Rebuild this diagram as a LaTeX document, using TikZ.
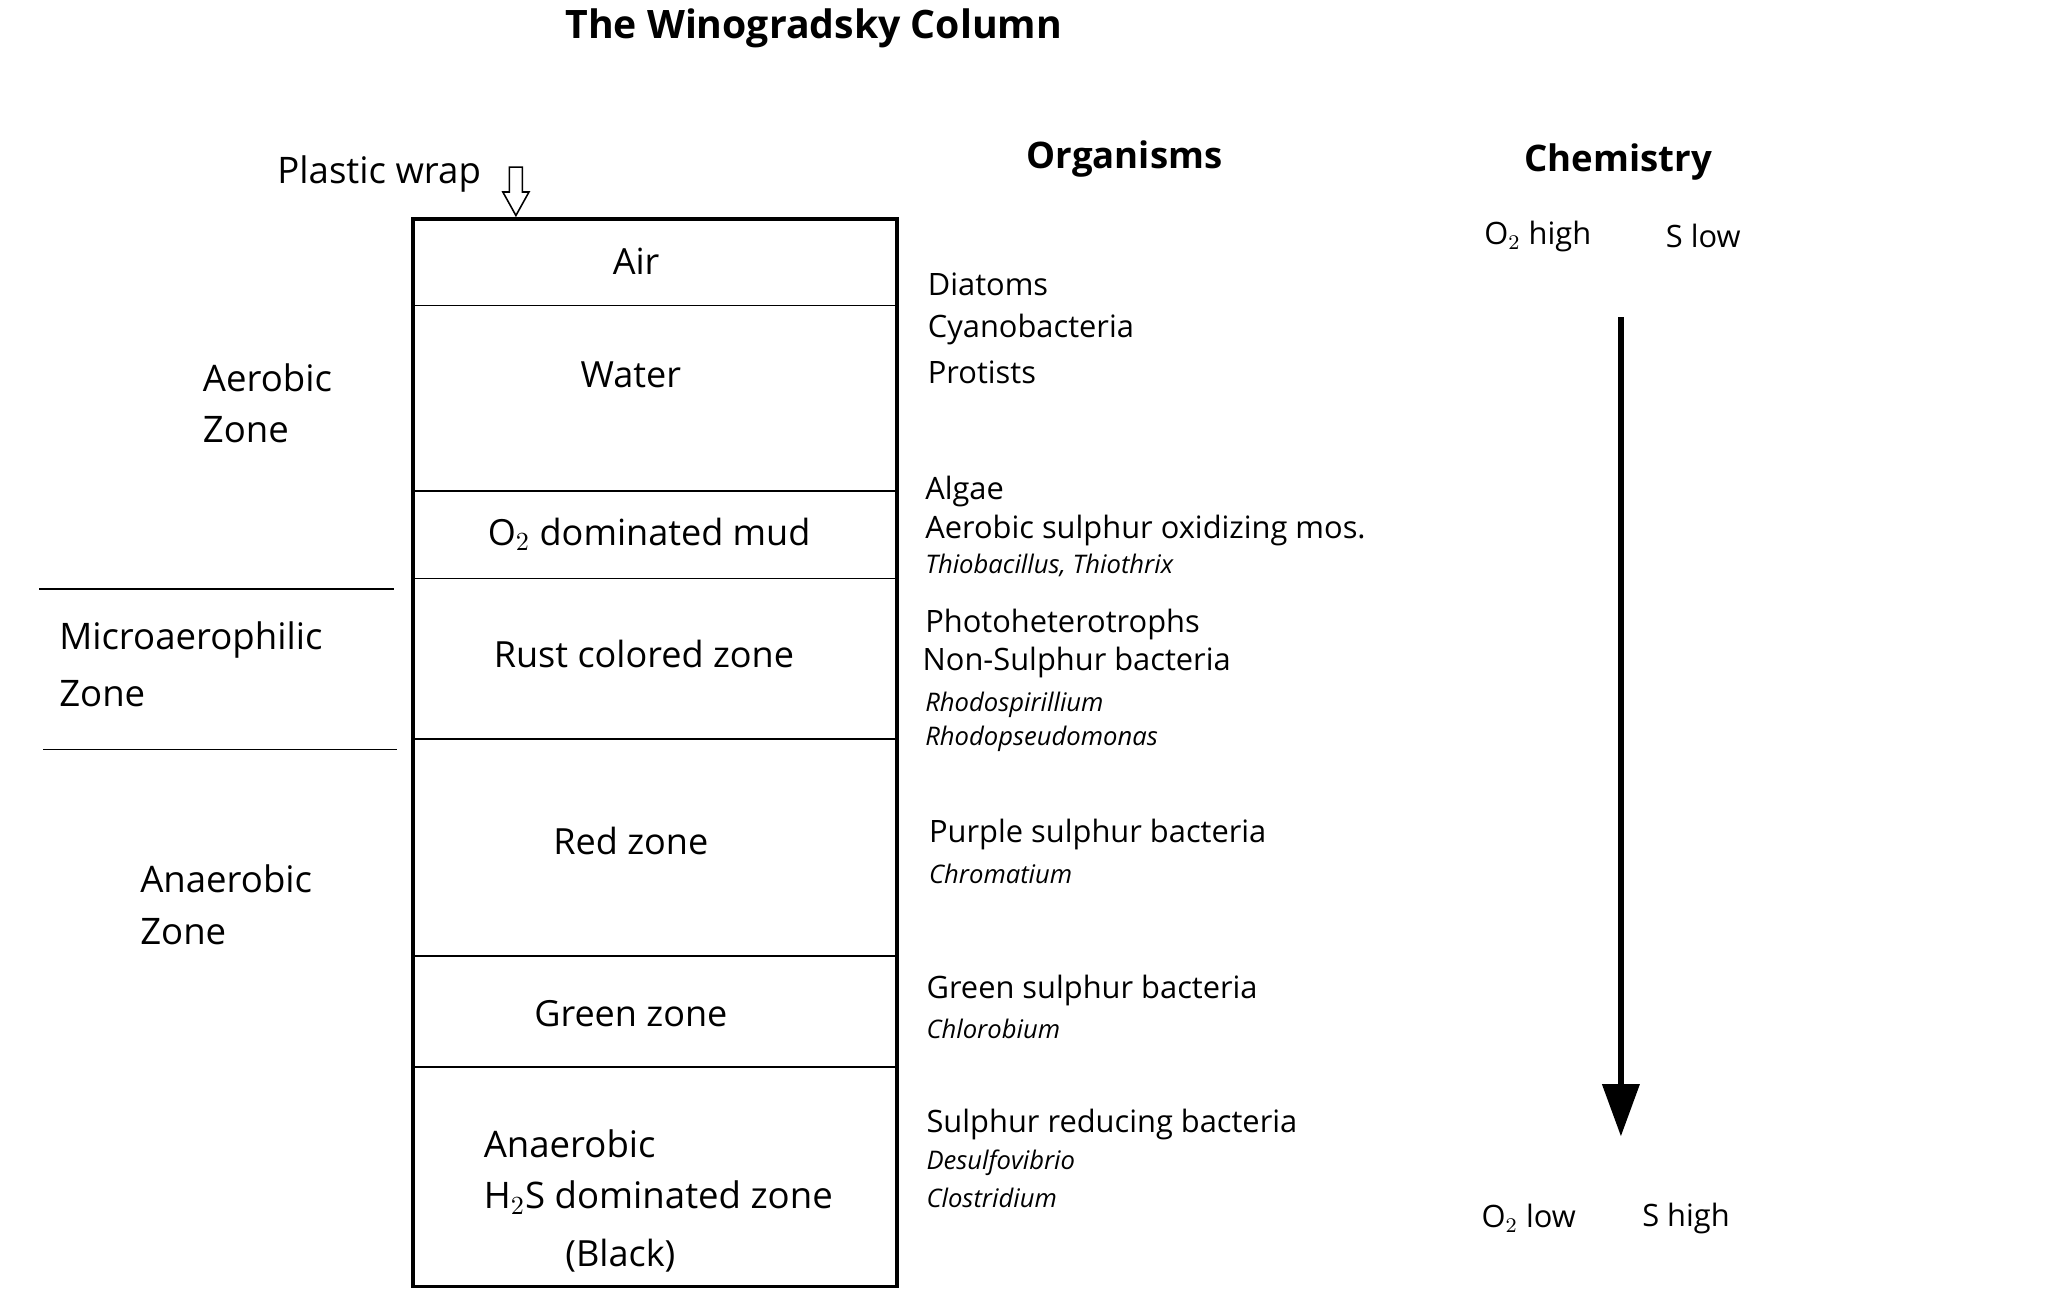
\documentclass[tikz,border=0pt]{standalone}
\usepackage{fontspec}
\setmainfont{Open Sans}
\usetikzlibrary{arrows.meta}
\begin{document}
\begin{tikzpicture}[x=0.5pt,y=-0.5pt,
  main/.style={font=\fontsize{13.8}{15}\selectfont,inner sep=0pt},
  org/.style={font=\fontsize{11.8}{13}\selectfont,anchor=west,inner sep=0pt},
  sp/.style={font=\fontsize{9.8}{11}\selectfont\itshape,anchor=west,inner sep=0pt},
  hd/.style={font=\fontsize{14}{16}\selectfont\bfseries,inner sep=0pt},
  zl/.style={font=\fontsize{14}{15}\selectfont,anchor=west,inner sep=0pt}]
\useasboundingbox (0,0) rectangle (1568,988);
\fill[white] (0,0) rectangle (1568,988);
\node[hd,font=\fontsize{15}{17}\selectfont\bfseries] (title) at (623,22) {The Winogradsky Column};
\draw[line width=1.5pt] (316,168) rectangle (687,985);
\foreach \y in {234,376,443,566,732,817} \draw[line width=0.6pt] (316,\y) -- (687,\y);
\node[main] (air) at (487,200) {Air};
\node[main] (water) at (483,287) {Water};
\node[main] (mud) at (497,409) {O$_2$ dominated mud};
\node[main] (rust) at (493,501) {Rust colored zone};
\node[main] (red) at (483,644) {Red zone};
\node[main] (green) at (483,776) {Green zone};
\node[zl] (an1) at (370,876) {Anaerobic};
\node[zl] (an2) at (370,917) {H$_2$S dominated zone};
\node[main] (black) at (475,961) {(Black)};
\node[zl] (aer) at (155,289) {Aerobic};
\node[zl] (aer2) at (155,329) {Zone};
\draw[line width=0.6pt] (30,451) -- (302,451);
\node[zl] (mic) at (45,490) {Microaerophilic};
\node[zl] (mic2) at (45,531) {Zone};
\draw[line width=0.6pt] (33,574) -- (304,574);
\node[zl] (ana) at (107,673) {Anaerobic};
\node[zl] (ana2) at (107,713) {Zone};
\node[zl] (pw) at (212,133) {Plastic wrap};
\draw[line width=0.6pt,fill=white] (390,128) -- (400,128) -- (400,147) -- (405,147) -- (395,165) -- (385,147) -- (390,147) -- cycle;
\node[hd] (orgh) at (861,122) {Organisms};
\node[hd] (chem) at (1239,124) {Chemistry};
\node[org] (o2h) at (1136,181) {O$_2$ high};
\node[org] (sl) at (1275,181) {S low};
\node[org] (o2l) at (1134,933) {O$_2$ low};
\node[org] (sh) at (1257,933) {S high};
\coordinate (a1) at (1241,243);
\coordinate (a2) at (1241,870);
\draw[line width=2pt,-{Triangle[length=20pt,width=14pt]}] (a1) -- (a2);
\node[org] at (710,218) {Diatoms};
\node[org] at (710,252) {Cyanobacteria};
\node[org] at (710,285) {Protists};
\node[org] at (708,376) {Algae};
\node[org] at (708,406) {Aerobic sulphur oxidizing mos.};
\node[sp] at (708,433) {Thiobacillus, Thiothrix};
\node[org] at (708,478) {Photoheterotrophs};
\node[org] at (706,507) {Non-Sulphur bacteria};
\node[sp] at (708,540) {Rhodospirillium};
\node[sp] at (708,566) {Rhodopseudomonas};
\node[org] at (711,639) {Purple sulphur bacteria};
\node[sp] at (711,669) {Chromatium};
\node[org] at (709,758) {Green sulphur bacteria};
\node[sp] at (709,788) {Chlorobium};
\node[org] at (709,861) {Sulphur reducing bacteria};
\node[sp] at (709,890) {Desulfovibrio};
\node[sp] at (709,917) {Clostridium};
\end{tikzpicture}
\end{document}
